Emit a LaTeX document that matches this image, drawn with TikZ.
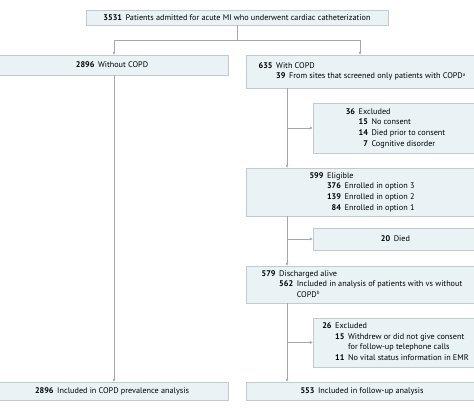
\documentclass[tikz,border=0pt]{standalone}
\usepackage{fontspec}
\setmainfont{PT Sans}
\usetikzlibrary{arrows.meta}
\definecolor{boxfill}{HTML}{E9F3F5}
\definecolor{boxline}{HTML}{C4CACC}
\definecolor{linecol}{HTML}{A4A8AA}
\tikzset{
  box/.style={draw=boxline, fill=boxfill, line width=0.9pt, inner sep=0pt,
    font=\fontsize{8.2}{10.6}\selectfont, align=center},
  conn/.style={draw=linecol, line width=0.8pt},
  arr/.style={conn, -{Triangle[length=2.6pt,width=2.6pt]}}
}
\newcommand{\nb}[1]{\textbf{#1}}
\newcommand{\gp}{\hspace{3.6pt}}
\newcommand{\sups}[1]{\raisebox{2.6pt}{\fontsize{5}{5}\selectfont #1}}
\begin{document}
\begin{tikzpicture}[x=1pt,y=-1pt]
\useasboundingbox (0,0) rectangle (474,408);
\clip (0,0) rectangle (474,408);
\fill[white] (0,0) rectangle (474,408);
% boxes
\node[box, minimum width=302, minimum height=15] (top) at (237,17.5)
  {\nb{3531}\gp Patients admitted for acute MI who underwent cardiac catheterization};
\node[box, minimum width=232, minimum height=20] (without) at (112,65)
  {\nb{2896}\gp Without COPD};
\node[box, minimum width=232, minimum height=33] (with) at (362,71.5)
  {\begin{tabular}{@{}r@{\gp}r@{\gp}l@{}}
   \nb{635} & \multicolumn{2}{@{}l@{}}{With COPD}\\
   & \nb{39} & From sites that screened only patients with COPD\sups{a}
   \end{tabular}};
\node[box, minimum width=165, minimum height=50] (excl1) at (395.5,128)
  {\begin{tabular}{@{}r@{\gp}r@{\gp}l@{}}
   \nb{36} & \multicolumn{2}{@{}l@{}}{Excluded}\\
   & \nb{15} & No consent\\
   & \nb{14} & Died prior to consent\\
   & \nb{7} & Cognitive disorder
   \end{tabular}};
\node[box, minimum width=232, minimum height=48] (elig) at (362,192)
  {\begin{tabular}{@{}r@{\gp}r@{\gp}l@{}}
   \nb{599} & \multicolumn{2}{@{}l@{}}{Eligible}\\
   & \nb{376} & Enrolled in option 3\\
   & \nb{139} & Enrolled in option 2\\
   & \nb{84} & Enrolled in option 1
   \end{tabular}};
\node[box, minimum width=165, minimum height=22] (died) at (395.5,239)
  {\nb{20}\gp Died};
\node[box, minimum width=232, minimum height=37] (disch) at (362,284.5)
  {\begin{tabular}{@{}r@{\gp}r@{\gp}l@{}}
   \nb{579} & \multicolumn{2}{@{}l@{}}{Discharged alive}\\
   & \nb{562} & Included in analysis of patients with vs without\\
   & & COPD\sups{b}
   \end{tabular}};
\node[box, minimum width=165, minimum height=49] (excl2) at (395.5,342.5)
  {\begin{tabular}{@{}r@{\gp}r@{\gp}l@{}}
   \nb{26} & \multicolumn{2}{@{}l@{}}{Excluded}\\
   & \nb{15} & Withdrew or did not give consent\\
   & & for follow-up telephone calls\\
   & \nb{11} & No vital status information in EMR
   \end{tabular}};
\node[box, minimum width=232, minimum height=18] (finalL) at (112,391)
  {\nb{2896}\gp Included in COPD prevalence analysis};
\node[box, minimum width=232, minimum height=18] (finalR) at (362,391)
  {\nb{553}\gp Included in follow-up analysis};
% connectors
\coordinate (split) at (237,40);
\coordinate (lx) at (114,0);
\coordinate (rx) at (360,0);
\coordinate (vx) at (287,0);
\draw[conn] (top.south) -- (split);
\draw[arr] (split) -| (without.north -| lx);
\draw[arr] (split) -| (with.north -| rx);
\draw[arr] (without.south -| lx) -- (finalL.north -| lx);
\draw[arr] (with.south -| vx) -- (elig.north -| vx);
\draw[arr] (excl1.west -| vx) -- (excl1.west);
\draw[arr] (elig.south -| vx) -- (disch.north -| vx);
\draw[arr] (died.west -| vx) -- (died.west);
\draw[arr] (disch.south -| vx) -- (finalR.north -| vx);
\draw[arr] (excl2.west -| vx) -- (excl2.west);
\end{tikzpicture}
\end{document}
